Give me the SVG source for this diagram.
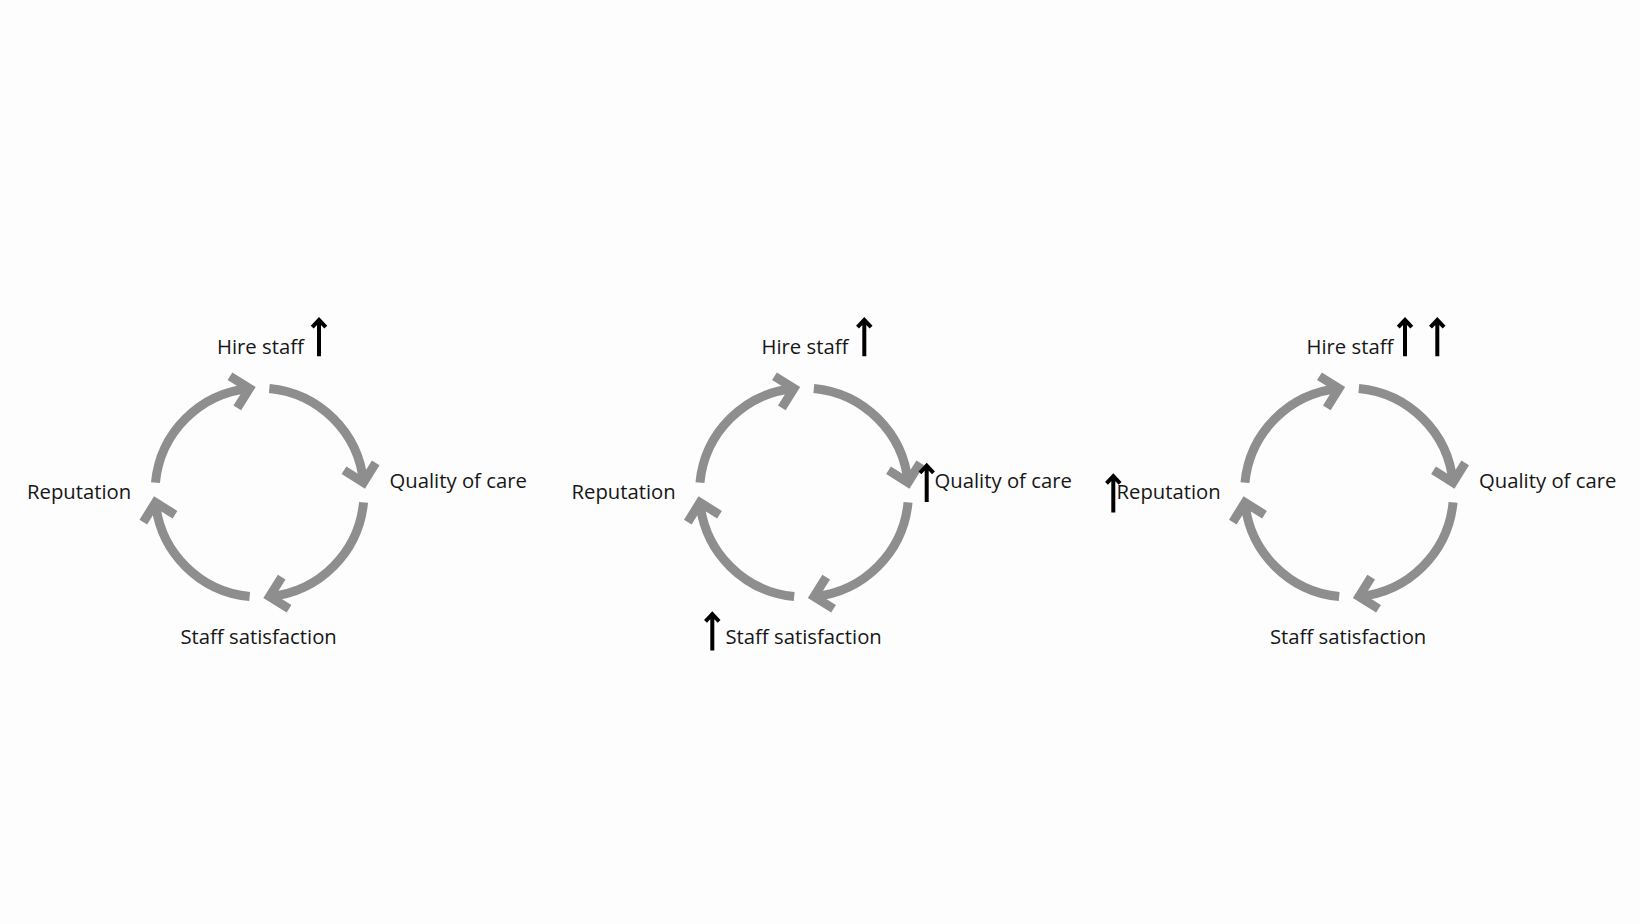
<svg xmlns="http://www.w3.org/2000/svg" width="1640" height="924" viewBox="0 0 1640 924">
  <style>
    .lbl { font-family: "Open Sans", "Noto Sans", "Liberation Sans", sans-serif; font-size: 20.3px; fill: #161616; }
    .arc { fill: none; stroke: #8e8e8e; stroke-width: 9; stroke-linecap: butt; stroke-linejoin: miter; }
    .up { fill: none; stroke: #000000; stroke-width: 4; stroke-linecap: butt; stroke-linejoin: miter; }
  </style>
  <defs>
    <path id="seg" class="arc" d="M 9.83 -104.04 A 104.5 104.5 0 0 1 104.02 -10.02 M 116.21 -29.53 L 104.02 -10.02 L 84.51 -22.21"/>
    <path id="up" class="up" d="M 0 2.7 L 0 39 M -6.8 9.8 L 0 2.7 L 6.8 9.8"/>
  </defs>
  <rect x="0" y="0" width="1640" height="924" fill="#fdfdfd"/>

  <g id="connectors">
    <g id="cycle1-arcs" transform="translate(259.5 492.5)">
      <use href="#seg"/>
      <use href="#seg" transform="rotate(90)"/>
      <use href="#seg" transform="rotate(180)"/>
      <use href="#seg" transform="rotate(270)"/>
    </g>
    <g id="cycle2-arcs" transform="translate(804 492.5)">
      <use href="#seg"/>
      <use href="#seg" transform="rotate(90)"/>
      <use href="#seg" transform="rotate(180)"/>
      <use href="#seg" transform="rotate(270)"/>
    </g>
    <g id="cycle3-arcs" transform="translate(1349 492.5)">
      <use href="#seg"/>
      <use href="#seg" transform="rotate(90)"/>
      <use href="#seg" transform="rotate(180)"/>
      <use href="#seg" transform="rotate(270)"/>
    </g>
  </g>

  <!-- Cycle 1 -->
  <g id="c1-hire"><text class="lbl" x="217" y="354">Hire staff</text><use href="#up" x="319" y="317.3"/></g>
  <g id="c1-quality"><text class="lbl" x="389.5" y="488">Quality of care</text></g>
  <g id="c1-staff"><text class="lbl" x="180.5" y="644">Staff satisfaction</text></g>
  <g id="c1-reputation"><text class="lbl" x="27" y="499">Reputation</text></g>

  <!-- Cycle 2 -->
  <g id="c2-hire"><text class="lbl" x="761.5" y="354">Hire staff</text><use href="#up" x="864.3" y="317.3"/></g>
  <g id="c2-quality"><text class="lbl" x="934.5" y="488">Quality of care</text><use href="#up" x="926.7" y="463"/></g>
  <g id="c2-staff"><text class="lbl" x="725.5" y="644">Staff satisfaction</text><use href="#up" x="712.3" y="611.5"/></g>
  <g id="c2-reputation"><text class="lbl" x="571.5" y="499">Reputation</text></g>

  <!-- Cycle 3 -->
  <g id="c3-hire"><text class="lbl" x="1306.5" y="354">Hire staff</text><use href="#up" x="1405" y="317.3"/><use href="#up" x="1437.3" y="317.3"/></g>
  <g id="c3-quality"><text class="lbl" x="1479" y="488">Quality of care</text></g>
  <g id="c3-staff"><text class="lbl" x="1270" y="644">Staff satisfaction</text></g>
  <g id="c3-reputation"><text class="lbl" x="1116.5" y="499">Reputation</text><use href="#up" x="1113.3" y="473.5"/></g>
</svg>
